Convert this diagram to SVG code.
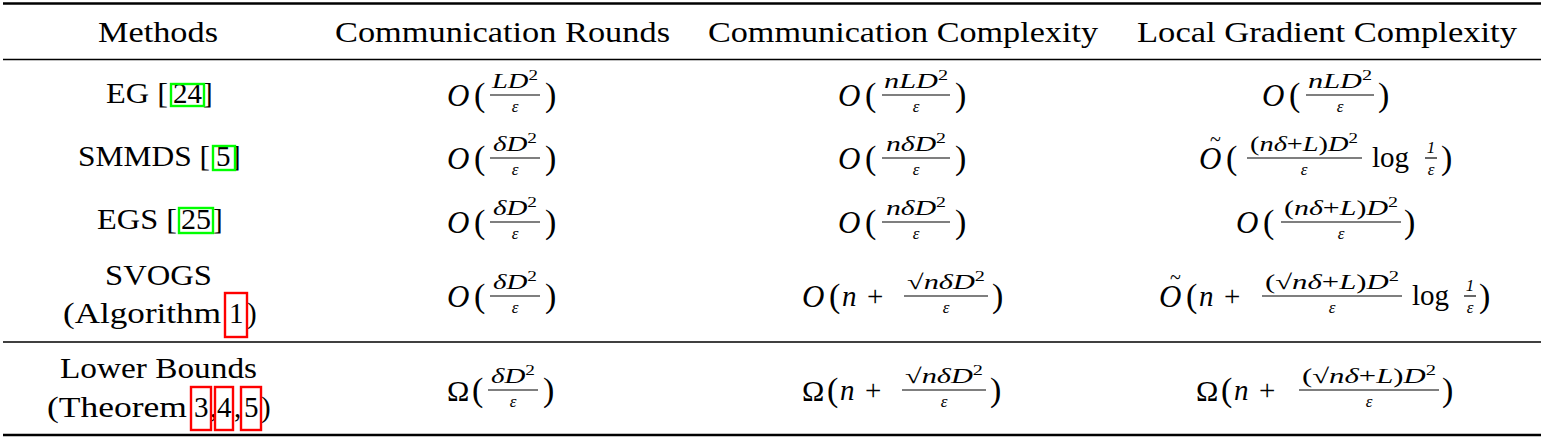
<svg xmlns="http://www.w3.org/2000/svg" width="1544" height="439" viewBox="0 0 1544 439" font-family="'Liberation Serif', 'Times New Roman', 'DejaVu Serif', serif">
<style>
text{font-family:"Liberation Serif","Times New Roman","DejaVu Serif",serif;fill:#000}
.t{font-size:29px}
.n{font-size:21px;font-style:italic;text-anchor:middle}
.d{font-size:17px;font-style:italic;text-anchor:middle}
.s{font-size:14px;font-style:normal}
.O{font-size:31px;font-style:italic}
.W{font-size:30px}
.p{font-size:34px}
.i{font-size:29px;font-style:italic}
.tl{font-size:20px}
.bar{stroke:#000;stroke-width:1.2}
.rule{stroke:#000}
.g{fill:none;stroke:#00ff00;stroke-width:2.4}
.r{fill:none;stroke:#ff0000;stroke-width:2.4}
</style>
<g id="rules">
<line class="rule" x1="3" y1="3.5" x2="1541" y2="3.5" stroke-width="2.6"/>
<line class="rule" x1="3" y1="59.5" x2="1541" y2="59.5" stroke-width="1.5"/>
<line class="rule" x1="3" y1="342" x2="1541" y2="342" stroke-width="1.5"/>
<line class="rule" x1="3" y1="435" x2="1541" y2="435" stroke-width="2.6"/>
</g>
<g id="header">
<text class="t" x="98" y="42" textLength="120" lengthAdjust="spacingAndGlyphs">Methods</text>
<text class="t" x="335" y="42" textLength="335" lengthAdjust="spacingAndGlyphs">Communication Rounds</text>
<text class="t" x="708" y="42" textLength="390" lengthAdjust="spacingAndGlyphs">Communication Complexity</text>
<text class="t" x="1137" y="42" textLength="380" lengthAdjust="spacingAndGlyphs">Local Gradient Complexity</text>
</g>
<g id="eg"><text class="t" x="106" y="103" textLength="62" lengthAdjust="spacingAndGlyphs">EG [</text><text class="t" x="173" y="103" textLength="29" lengthAdjust="spacingAndGlyphs">24</text><text class="t" x="203" y="103">]</text><rect class="g" x="171" y="84" width="33" height="22"/></g>
<g id="smmds"><text class="t" x="78" y="166" textLength="132" lengthAdjust="spacingAndGlyphs">SMMDS [</text><text class="t" x="216" y="166">5</text><text class="t" x="231" y="166">]</text><rect class="g" x="213" y="146" width="22" height="24"/></g>
<g id="egs"><text class="t" x="97" y="229" textLength="80" lengthAdjust="spacingAndGlyphs">EGS [</text><text class="t" x="181" y="229" textLength="30" lengthAdjust="spacingAndGlyphs">25</text><text class="t" x="213" y="229">]</text><rect class="g" x="179" y="208" width="34" height="25"/></g>
<g id="svogs"><text class="t" x="105" y="285" textLength="107" lengthAdjust="spacingAndGlyphs">SVOGS</text><text class="t" x="63" y="323" textLength="158" lengthAdjust="spacingAndGlyphs">(Algorithm</text><text class="t" x="229" y="323">1</text><text class="t" x="247" y="323">)</text><rect class="r" x="225" y="293" width="22" height="44"/></g>
<g id="lower"><text class="t" x="60" y="378" textLength="197" lengthAdjust="spacingAndGlyphs">Lower Bounds</text><text class="t" x="47" y="417" textLength="140" lengthAdjust="spacingAndGlyphs">(Theorem</text><text class="t" x="194" y="417">3</text><text class="t" x="210" y="417">,</text><text class="t" x="217" y="417">4</text><text class="t" x="234" y="417">,</text><text class="t" x="244" y="417">5</text><text class="t" x="261" y="417">)</text><rect class="r" x="191" y="387" width="20" height="43"/><rect class="r" x="215" y="387" width="18" height="43"/><rect class="r" x="241" y="387" width="20" height="43"/></g>

<g id="rounds">
<g transform="translate(0,95)"><text class="O" x="447" y="11">O</text><text class="p" x="474" y="11">(</text><text class="n" x="515" y="-7" textLength="46" lengthAdjust="spacingAndGlyphs">LD<tspan class="s" dy="-8">2</tspan></text><line class="bar" x1="490" y1="0" x2="540" y2="0"/><text class="d" x="515" y="17">ε</text><text class="p" x="545" y="11">)</text></g>
<g transform="translate(0,158)"><text class="O" x="447" y="11">O</text><text class="p" x="474" y="11">(</text><text class="n" x="515" y="-7" textLength="44" lengthAdjust="spacingAndGlyphs">δD<tspan class="s" dy="-8">2</tspan></text><line class="bar" x1="490" y1="0" x2="540" y2="0"/><text class="d" x="515" y="17">ε</text><text class="p" x="545" y="11">)</text></g>
<g transform="translate(0,222)"><text class="O" x="447" y="11">O</text><text class="p" x="474" y="11">(</text><text class="n" x="515" y="-7" textLength="44" lengthAdjust="spacingAndGlyphs">δD<tspan class="s" dy="-8">2</tspan></text><line class="bar" x1="490" y1="0" x2="540" y2="0"/><text class="d" x="515" y="17">ε</text><text class="p" x="545" y="11">)</text></g>
<g transform="translate(0,296)"><text class="O" x="447" y="11">O</text><text class="p" x="474" y="11">(</text><text class="n" x="515" y="-7" textLength="44" lengthAdjust="spacingAndGlyphs">δD<tspan class="s" dy="-8">2</tspan></text><line class="bar" x1="490" y1="0" x2="540" y2="0"/><text class="d" x="515" y="17">ε</text><text class="p" x="545" y="11">)</text></g>
<g transform="translate(0,390)"><text class="W" x="447" y="11">Ω</text><text class="p" x="472" y="11">(</text><text class="n" x="513" y="-7" textLength="44" lengthAdjust="spacingAndGlyphs">δD<tspan class="s" dy="-8">2</tspan></text><line class="bar" x1="488" y1="0" x2="538" y2="0"/><text class="d" x="513" y="17">ε</text><text class="p" x="543" y="11">)</text></g>
</g>

<g id="comm">
<g transform="translate(0,95)"><text class="O" x="838" y="11">O</text><text class="p" x="865" y="11">(</text><text class="n" x="916" y="-7" textLength="64" lengthAdjust="spacingAndGlyphs">nLD<tspan class="s" dy="-8">2</tspan></text><line class="bar" x1="882" y1="0" x2="950" y2="0"/><text class="d" x="916" y="17">ε</text><text class="p" x="955" y="11">)</text></g>
<g transform="translate(0,158)"><text class="O" x="838" y="11">O</text><text class="p" x="865" y="11">(</text><text class="n" x="916" y="-7" textLength="60" lengthAdjust="spacingAndGlyphs">nδD<tspan class="s" dy="-8">2</tspan></text><line class="bar" x1="882" y1="0" x2="950" y2="0"/><text class="d" x="916" y="17">ε</text><text class="p" x="955" y="11">)</text></g>
<g transform="translate(0,222)"><text class="O" x="838" y="11">O</text><text class="p" x="865" y="11">(</text><text class="n" x="916" y="-7" textLength="60" lengthAdjust="spacingAndGlyphs">nδD<tspan class="s" dy="-8">2</tspan></text><line class="bar" x1="882" y1="0" x2="950" y2="0"/><text class="d" x="916" y="17">ε</text><text class="p" x="955" y="11">)</text></g>
<g transform="translate(0,296)"><text class="O" x="802" y="11">O</text><text class="p" x="829" y="11">(</text><text class="i" x="842" y="10">n</text><text class="t" x="867" y="10">+</text><text class="n" x="946" y="-7" textLength="78" lengthAdjust="spacingAndGlyphs"><tspan font-style="normal">√</tspan>nδD<tspan class="s" dy="-8">2</tspan></text><line class="bar" x1="904" y1="0" x2="988" y2="0"/><text class="d" x="946" y="17">ε</text><text class="p" x="992" y="11">)</text></g>
<g transform="translate(0,390)"><text class="W" x="802" y="11">Ω</text><text class="p" x="827" y="11">(</text><text class="i" x="840" y="10">n</text><text class="t" x="865" y="10">+</text><text class="n" x="944" y="-7" textLength="78" lengthAdjust="spacingAndGlyphs"><tspan font-style="normal">√</tspan>nδD<tspan class="s" dy="-8">2</tspan></text><line class="bar" x1="902" y1="0" x2="986" y2="0"/><text class="d" x="944" y="17">ε</text><text class="p" x="990" y="11">)</text></g>
</g>

<g id="local">
<g transform="translate(0,95)"><text class="O" x="1262" y="11">O</text><text class="p" x="1289" y="11">(</text><text class="n" x="1340" y="-7" textLength="64" lengthAdjust="spacingAndGlyphs">nLD<tspan class="s" dy="-8">2</tspan></text><line class="bar" x1="1306" y1="0" x2="1374" y2="0"/><text class="d" x="1340" y="17">ε</text><text class="p" x="1378" y="11">)</text></g>
<g transform="translate(0,158)"><text class="O" x="1199" y="11">O</text><text class="tl" x="1210" y="-12">~</text><text class="p" x="1226" y="11">(</text><text class="n" x="1304" y="-7" textLength="108" lengthAdjust="spacingAndGlyphs"><tspan font-style="normal">(</tspan>nδ<tspan font-style="normal">+</tspan>L<tspan font-style="normal">)</tspan>D<tspan class="s" dy="-8">2</tspan></text><line class="bar" x1="1247" y1="0" x2="1362" y2="0"/><text class="d" x="1304" y="17">ε</text><text class="t" x="1372" y="9">log</text><text class="d" x="1431" y="-5" font-style="normal">1</text><line class="bar" x1="1425" y1="0" x2="1437" y2="0"/><text class="d" x="1431" y="17">ε</text><text class="p" x="1441" y="11">)</text></g>
<g transform="translate(0,222)"><text class="O" x="1236" y="11">O</text><text class="p" x="1263" y="11">(</text><text class="n" x="1341" y="-7" textLength="114" lengthAdjust="spacingAndGlyphs"><tspan font-style="normal">(</tspan>nδ<tspan font-style="normal">+</tspan>L<tspan font-style="normal">)</tspan>D<tspan class="s" dy="-8">2</tspan></text><line class="bar" x1="1281" y1="0" x2="1401" y2="0"/><text class="d" x="1341" y="17">ε</text><text class="p" x="1404" y="11">)</text></g>
<g transform="translate(0,296)"><text class="O" x="1159" y="11">O</text><text class="tl" x="1170" y="-12">~</text><text class="p" x="1186" y="11">(</text><text class="i" x="1199" y="10">n</text><text class="t" x="1224" y="10">+</text><text class="n" x="1332" y="-7" textLength="134" lengthAdjust="spacingAndGlyphs"><tspan font-style="normal">(√</tspan>nδ<tspan font-style="normal">+</tspan>L<tspan font-style="normal">)</tspan>D<tspan class="s" dy="-8">2</tspan></text><line class="bar" x1="1262" y1="0" x2="1402" y2="0"/><text class="d" x="1332" y="17">ε</text><text class="t" x="1412" y="9">log</text><text class="d" x="1470" y="-5" font-style="normal">1</text><line class="bar" x1="1464" y1="0" x2="1476" y2="0"/><text class="d" x="1470" y="17">ε</text><text class="p" x="1479" y="11">)</text></g>
<g transform="translate(0,390)"><text class="W" x="1196" y="11">Ω</text><text class="p" x="1221" y="11">(</text><text class="i" x="1234" y="10">n</text><text class="t" x="1259" y="10">+</text><text class="n" x="1369" y="-7" textLength="134" lengthAdjust="spacingAndGlyphs"><tspan font-style="normal">(√</tspan>nδ<tspan font-style="normal">+</tspan>L<tspan font-style="normal">)</tspan>D<tspan class="s" dy="-8">2</tspan></text><line class="bar" x1="1299" y1="0" x2="1439" y2="0"/><text class="d" x="1369" y="17">ε</text><text class="p" x="1442" y="11">)</text></g>
</g>
</svg>
